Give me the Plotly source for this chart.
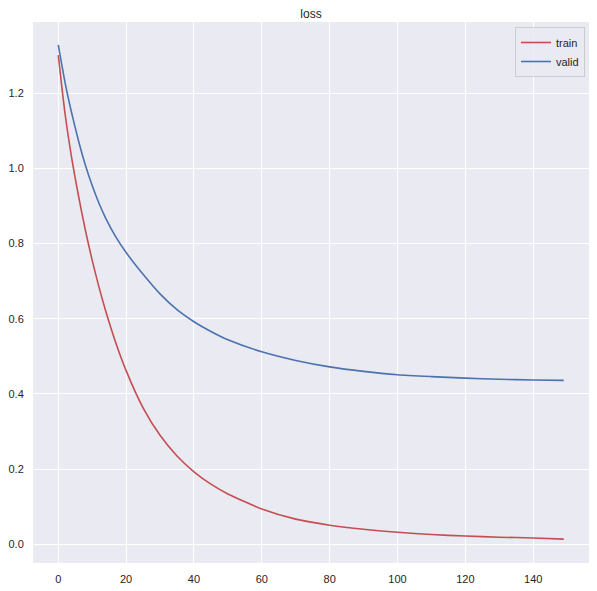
import plotly.graph_objects as go

# epochs
epochs = [0, 2, 4, 6, 8, 10, 12, 14, 17, 20, 25, 30, 35, 40, 45, 50, 60, 70, 80, 90, 100, 110, 120, 130, 140, 149]

train_loss = [1.301, 1.145, 1.025, 0.925, 0.835, 0.755, 0.684, 0.620, 0.535, 0.462, 0.363, 0.290, 0.235, 0.193, 0.160,
              0.134, 0.094, 0.067, 0.051, 0.040, 0.032, 0.026, 0.022, 0.019, 0.017, 0.014]
valid_loss = [1.328, 1.228, 1.145, 1.072, 1.008, 0.954, 0.907, 0.867, 0.817, 0.776, 0.718, 0.666, 0.624, 0.592, 0.566,
              0.544, 0.512, 0.489, 0.472, 0.460, 0.451, 0.446, 0.442, 0.439, 0.437, 0.436]

xticks = [0, 20, 40, 60, 80, 100, 120, 140]
yticks = [0.0, 0.2, 0.4, 0.6, 0.8, 1.0, 1.2]

fig = go.Figure()
fig.add_trace(go.Scatter(x=epochs, y=train_loss, mode='lines', name='train',
                         line=dict(color='#C44E52', width=1.6, shape='spline', smoothing=0.6)))
fig.add_trace(go.Scatter(x=epochs, y=valid_loss, mode='lines', name='valid',
                         line=dict(color='#4C72B0', width=1.6, shape='spline', smoothing=0.6)))

# page body has an 8px margin, so the figure is 8px smaller and shifted
fig.update_layout(
    width=589, height=583,
    margin=dict(l=25, r=8, t=14, b=28, autoexpand=False),
    paper_bgcolor='white',
    plot_bgcolor='#EAEAF2',
    font=dict(family='Liberation Sans, Arial, sans-serif', size=11, color='#262626'),
    title=dict(text='loss', x=0.5, xref='paper', xanchor='center',
               y=1 - 2 / 583, yref='container', yanchor='top', automargin=False, pad=dict(t=0, b=0),
               font=dict(size=12, color='#262626')),
    legend=dict(x=1 - 4 / 556, y=1 - 5 / 541, xanchor='right', yanchor='top',
                bgcolor='rgba(234,234,242,0.8)', bordercolor='#CCCCCC', borderwidth=1,
                font=dict(size=11), tracegroupgap=0),
)
fig.update_xaxes(range=[-7.45, 156.45], tickvals=xticks, showgrid=True, gridcolor='white', gridwidth=1,
                 zeroline=False, showline=False, ticks='outside', ticklen=6, tickcolor='rgba(0,0,0,0)',
                 automargin=False)
fig.update_yaxes(range=[-0.0496, 1.389], tickvals=yticks, tickformat='.1f', showgrid=True, gridcolor='white',
                 gridwidth=1, zeroline=False, showline=False, ticks='outside', ticklen=6,
                 tickcolor='rgba(0,0,0,0)', automargin=False)

fig.write_html("out.html")
